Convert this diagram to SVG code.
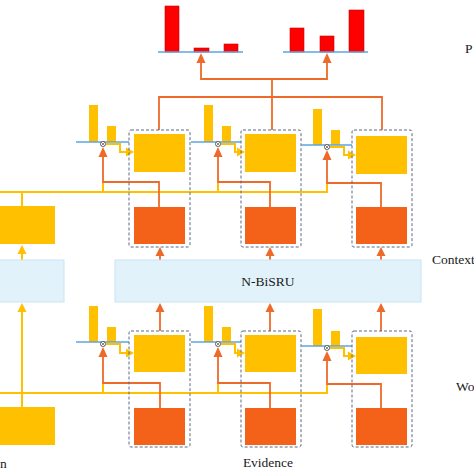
<svg xmlns="http://www.w3.org/2000/svg" width="474" height="474" viewBox="0 0 474 474">
<defs>
<style>
.y{fill:#FFC000}
.o{fill:#F46118}
.r{fill:#FF0000;stroke:#D00000;stroke-width:0.6}
.dash{fill:none;stroke:#5E6B80;stroke-width:1;stroke-dasharray:3,2}
.lb{fill:#E2F2FB;stroke:#CBE4F2;stroke-width:1}
.base{stroke:#5BA4E0;stroke-width:1.6;fill:none}
.ol{stroke:#EE6A2A;stroke-width:1.8;fill:none}
.yl{stroke:#FFC000;stroke-width:2;fill:none}
.circ{fill:#fff;stroke:#555;stroke-width:0.8}
.x{stroke:#555;stroke-width:0.7}
.t{font-family:"Liberation Serif","Times New Roman",serif;font-size:13.5px;fill:#1a1a1a}
</style>
<g id="otimes">
<circle class="circ" cx="0" cy="0" r="2.6"/>
<path class="x" d="M-1.8,-1.8 L1.8,1.8 M-1.8,1.8 L1.8,-1.8"/>
</g>
</defs>
<rect width="474" height="474" fill="#fff"/>

<g id="connectors">
<!-- top output tree -->
<polyline class="ol" points="159,130 159,97 382,97 382,130"/>
<line class="ol" x1="272" y1="130" x2="272" y2="79"/>
<polyline class="ol" points="201,62 201,79 327,79 327,62"/>
<path d="M196.5,63 L201,53 L205.5,63 Z" fill="#EE6A2A"/>
<path d="M322.5,63 L327,53 L331.5,63 Z" fill="#EE6A2A"/>

<!-- upper row: yellow long line & stubs -->
<line class="yl" x1="0" y1="192" x2="328" y2="192"/>
<line class="yl" x1="22" y1="206" x2="22" y2="192"/>
<line class="yl" x1="103" y1="192" x2="103" y2="182"/>
<line class="yl" x1="218" y1="192" x2="218" y2="182"/>
<line class="yl" x1="327" y1="192" x2="327" y2="183"/>
<!-- upper row orange attention feeds -->
<polyline class="ol" points="159,207 159,182 103,182 103,156"/>
<polyline class="ol" points="270,207 270,182 218,182 218,156"/>
<polyline class="ol" points="381,207 381,183 327,183 327,159"/>
<path d="M98.5,157 L103,147 L107.5,157 Z" fill="#EE6A2A"/>
<path d="M213.5,157 L218,147 L222.5,157 Z" fill="#EE6A2A"/>
<path d="M322.5,160 L327,150 L331.5,160 Z" fill="#EE6A2A"/>
<!-- small yellow arrows upper -->
<polyline class="yl" points="106,144 120,144 120,152 127,152"/>
<path d="M126,147.5 L134,152 L126,156.5 Z" fill="#FFC000"/>
<polyline class="yl" points="221,144 235,144 235,152 238,152"/>
<path d="M237,147.5 L245,152 L237,156.5 Z" fill="#FFC000"/>
<polyline class="yl" points="330,147 344,147 344,155 349,155"/>
<path d="M348,150.5 L356,155 L348,159.5 Z" fill="#FFC000"/>

<!-- N-BiSRU to upper dashed boxes -->
<line class="ol" x1="160" y1="260" x2="160" y2="255"/>
<line class="ol" x1="270" y1="260" x2="270" y2="255"/>
<line class="ol" x1="381" y1="260" x2="381" y2="255"/>
<path d="M155.5,256 L160,247 L164.5,256 Z" fill="#EE6A2A"/>
<path d="M265.5,256 L270,247 L274.5,256 Z" fill="#EE6A2A"/>
<path d="M376.5,256 L381,247 L385.5,256 Z" fill="#EE6A2A"/>
<line class="yl" x1="22" y1="260" x2="22" y2="253"/>
<path d="M17.5,254 L22,245 L26.5,254 Z" fill="#FFC000"/>

<!-- lower dashed boxes to N-BiSRU -->
<line class="ol" x1="160" y1="331" x2="160" y2="311"/>
<line class="ol" x1="270" y1="331" x2="270" y2="311"/>
<line class="ol" x1="381" y1="331" x2="381" y2="311"/>
<path d="M155.5,312 L160,303 L164.5,312 Z" fill="#EE6A2A"/>
<path d="M265.5,312 L270,303 L274.5,312 Z" fill="#EE6A2A"/>
<path d="M376.5,312 L381,303 L385.5,312 Z" fill="#EE6A2A"/>
<line class="yl" x1="22" y1="407" x2="22" y2="311"/>
<path d="M17.5,312 L22,303 L26.5,312 Z" fill="#FFC000"/>

<!-- lower row yellow long line & stubs -->
<line class="yl" x1="0" y1="393" x2="328" y2="393"/>
<line class="yl" x1="103" y1="393" x2="103" y2="383"/>
<line class="yl" x1="218" y1="393" x2="218" y2="383"/>
<line class="yl" x1="327" y1="393" x2="327" y2="384"/>
<!-- lower row orange attention feeds -->
<polyline class="ol" points="160,408 160,383 103,383 103,356"/>
<polyline class="ol" points="270,408 270,383 218,383 218,356"/>
<polyline class="ol" points="381,408 381,384 327,384 327,360"/>
<path d="M98.5,357 L103,347 L107.5,357 Z" fill="#EE6A2A"/>
<path d="M213.5,357 L218,347 L222.5,357 Z" fill="#EE6A2A"/>
<path d="M322.5,361 L327,351 L331.5,361 Z" fill="#EE6A2A"/>
<!-- small yellow arrows lower -->
<polyline class="yl" points="106,344 120,344 120,353 127,353"/>
<path d="M126,348.5 L134,353 L126,357.5 Z" fill="#FFC000"/>
<polyline class="yl" points="221,344 235,344 235,353 238,353"/>
<path d="M237,348.5 L245,353 L237,357.5 Z" fill="#FFC000"/>
<polyline class="yl" points="330,348 344,348 344,356 349,356"/>
<path d="M348,351.5 L356,356 L348,360.5 Z" fill="#FFC000"/>
</g>

<g id="prediction-bars">
<rect class="r" x="165" y="6" width="14" height="46"/>
<rect class="r" x="194" y="48" width="15" height="4"/>
<rect class="r" x="224" y="44" width="14" height="8"/>
<line class="base" x1="158" y1="52" x2="243" y2="52"/>
<rect class="r" x="290" y="28" width="14" height="24"/>
<rect class="r" x="320" y="36" width="14" height="16"/>
<rect class="r" x="349" y="10" width="15" height="42"/>
<line class="base" x1="283" y1="52" x2="368" y2="52"/>
</g>

<g id="upper-col1">
<rect class="y" x="89" y="105" width="9" height="37"/>
<rect class="y" x="107" y="126" width="9" height="16"/>
<line class="base" x1="76" y1="142" x2="129" y2="142"/>
<use href="#otimes" x="103" y="144"/>
<rect class="dash" x="129" y="130" width="61" height="117" rx="2"/>
<rect class="y" x="134" y="134" width="51" height="38"/>
<rect class="o" x="134" y="207" width="51" height="37"/>
</g>
<g id="upper-col2">
<rect class="y" x="204" y="105" width="9" height="37"/>
<rect class="y" x="222" y="126" width="9" height="16"/>
<line class="base" x1="191" y1="142" x2="241" y2="142"/>
<use href="#otimes" x="218" y="144"/>
<rect class="dash" x="241" y="130" width="60" height="117" rx="2"/>
<rect class="y" x="245" y="134" width="51" height="38"/>
<rect class="o" x="245" y="207" width="51" height="37"/>
</g>
<g id="upper-col3">
<rect class="y" x="313" y="109" width="9" height="36"/>
<rect class="y" x="331" y="130" width="9" height="15"/>
<line class="base" x1="301" y1="145" x2="352" y2="145"/>
<use href="#otimes" x="327" y="147"/>
<rect class="dash" x="352" y="130" width="60" height="117" rx="2"/>
<rect class="y" x="356" y="136" width="51" height="38"/>
<rect class="o" x="356" y="207" width="51" height="37"/>
</g>
<g id="upper-left">
<rect class="y" x="0" y="206" width="55" height="38"/>
</g>

<g id="left-encoder">
<rect class="lb" x="-2" y="260" width="66" height="42"/>
</g>
<g id="n-bisru">
<rect class="lb" x="115" y="260" width="306" height="42"/>
<text class="t" x="268" y="286" text-anchor="middle">N-BiSRU</text>
</g>

<g id="lower-col1">
<rect class="y" x="89" y="306" width="9" height="36"/>
<rect class="y" x="107" y="327" width="9" height="15"/>
<line class="base" x1="76" y1="342" x2="129" y2="342"/>
<use href="#otimes" x="103" y="344"/>
<rect class="dash" x="129" y="331" width="61" height="116" rx="2"/>
<rect class="y" x="134" y="335" width="51" height="37"/>
<rect class="o" x="134" y="408" width="51" height="37"/>
</g>
<g id="lower-col2">
<rect class="y" x="204" y="306" width="9" height="36"/>
<rect class="y" x="222" y="327" width="9" height="15"/>
<line class="base" x1="191" y1="342" x2="241" y2="342"/>
<use href="#otimes" x="218" y="344"/>
<rect class="dash" x="241" y="331" width="60" height="116" rx="2"/>
<rect class="y" x="245" y="335" width="51" height="37"/>
<rect class="o" x="245" y="408" width="51" height="37"/>
</g>
<g id="lower-col3">
<rect class="y" x="313" y="309" width="9" height="37"/>
<rect class="y" x="331" y="331" width="9" height="15"/>
<line class="base" x1="301" y1="346" x2="352" y2="346"/>
<use href="#otimes" x="327" y="348"/>
<rect class="dash" x="352" y="331" width="60" height="116" rx="2"/>
<rect class="y" x="356" y="337" width="51" height="37"/>
<rect class="o" x="356" y="408" width="51" height="37"/>
</g>
<g id="lower-left">
<rect class="y" x="0" y="407" width="55" height="38"/>
</g>

<g id="labels">
<text class="t" x="465" y="53">P</text>
<text class="t" x="432" y="264">Context</text>
<text class="t" x="456" y="391">Wo</text>
<text class="t" x="268" y="467" text-anchor="middle">Evidence</text>
<text class="t" x="0" y="468">n</text>
</g>
</svg>
